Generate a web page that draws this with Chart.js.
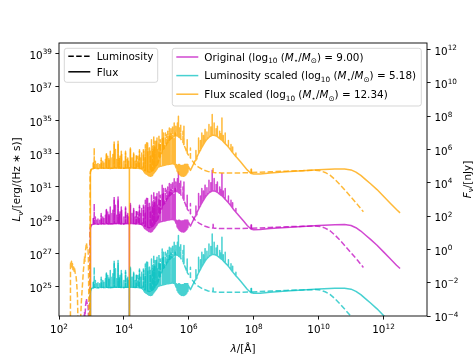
<!DOCTYPE html>
<html><head><meta charset="utf-8">
<script src="https://cdn.jsdelivr.net/npm/chart.js@4.4.1/dist/chart.umd.min.js"></script>
<style>html,body{margin:0;padding:0;background:#fff;}canvas{display:block;}</style>
</head><body>
<canvas id="c" width="474" height="355"></canvas>
<script>
// ---------------- data (log10 values) ----------------
const massLog = [9.00, 5.18, 12.34];
const seriesNames = ['Original', 'Luminosity scaled', 'Flux scaled'];
const massLabels = ['9.00', '5.18', '12.34'];

// Original model, luminosity: [log10 lambda/A, log10 L_nu erg/(Hz s)]
const lumOriginal = [
[2.00,15.0],[2.35,15.5],[2.354,23.16],[2.37,22.9],[2.385,23.2],[2.40,22.8],[2.415,23.05],[2.43,22.7],[2.45,22.95],[2.465,22.6],[2.477,22.8],[2.50,22.5],[2.523,22.35],[2.545,21.9],[2.569,21.1],[2.59,19.0],[2.61,17.7],[2.64,18.5],[2.66,19.5],[2.69,20.8],[2.72,21.7],[2.75,22.6],[2.77,23.0],[2.785,23.5],[2.80,23.2],[2.82,23.9],[2.846,24.3],[2.865,24.0],[2.89,24.05],[2.905,23.5],[2.92,20.7],[2.945,16.7],[2.955,17.0],
[2.958,28.3],[2.97,28.6],[2.99,28.72],[3.03,28.76],[3.058,28.77],[3.06,29.1],[3.062,28.77],[3.082,28.78],[3.085,30.0],[3.088,28.78],[3.15,28.8],[3.198,28.77],[3.20,29.15],[3.202,28.77],[3.27,28.8],[3.298,28.78],[3.30,29.4],[3.302,28.78],
[3.348,28.8],[3.35,29.2],[3.352,28.8],[3.42,28.78],[3.458,28.8],[3.46,29.6],[3.462,28.8],[3.52,28.78],[3.538,28.8],[3.54,29.3],[3.542,28.8],
[3.578,28.8],[3.58,29.8],[3.582,28.8],[3.64,28.78],[3.698,28.8],[3.70,30.4],[3.702,28.8],[3.76,28.8],[3.818,28.8],[3.82,30.4],[3.822,28.8],
[3.858,28.8],[3.86,29.4],[3.862,28.8],[3.918,28.78],[3.92,29.8],[3.922,28.78],[3.98,28.78],[4.048,28.8],[4.05,29.8],[4.052,28.8],
[4.118,28.8],[4.12,29.4],[4.122,28.8],[4.198,28.8],[4.20,30.0],[4.202,28.8],[4.26,28.78],[4.298,28.8],[4.30,29.7],[4.302,28.8],
[4.378,28.8],[4.38,29.6],[4.382,28.8],[4.428,28.78],[4.43,29.5],[4.432,28.78],[4.478,28.78],[4.48,29.9],[4.482,28.78],[4.518,28.78],[4.52,29.4],[4.522,28.78],[4.56,28.75],
[4.598,28.7],[4.60,29.9],[4.602,28.7],[4.64,28.66],[4.658,28.64],[4.66,30.2],[4.662,28.64],[4.70,28.6],[4.728,28.58],[4.73,30.3],[4.732,28.58],[4.78,28.55],
[4.808,28.56],[4.81,29.8],[4.812,28.56],[4.848,28.6],[4.85,30.5],[4.852,28.6],[4.888,28.65],[4.89,30.1],[4.892,28.65],[4.918,28.7],[4.92,30.7],[4.922,28.72],
[4.958,28.82],[4.96,30.4],[4.962,28.83],[4.98,28.9],
[5.018,28.98],[5.02,30.6],[5.022,28.99],[5.05,29.1],[5.078,29.3],[5.08,30.8],[5.082,29.35],[5.118,29.45],[5.12,30.5],[5.122,29.46],[5.15,29.55],
[5.178,29.8],[5.18,31.1],[5.182,29.82],[5.218,29.93],[5.22,30.9],[5.222,29.94],[5.25,30.0],[5.278,30.1],[5.28,30.9],[5.282,30.1],
[5.318,30.24],[5.32,30.8],[5.322,30.25],[5.348,30.33],[5.35,31.0],[5.352,30.33],[5.398,30.45],[5.40,31.2],[5.402,30.46],
[5.448,30.55],[5.45,31.2],[5.452,30.56],[5.498,30.63],[5.50,31.3],[5.502,30.64],[5.548,30.7],[5.55,31.5],[5.552,30.7],
[5.598,30.73],[5.60,31.3],[5.602,30.73],[5.62,30.74],[5.648,30.72],[5.65,31.5],[5.652,30.72],[5.678,30.68],[5.68,31.9],[5.682,30.67],
[5.718,30.62],[5.72,31.2],[5.722,30.62],[5.748,30.55],[5.75,31.4],[5.752,30.54],[5.80,30.4],[5.818,30.33],[5.82,31.0],[5.822,30.32],
[5.848,30.2],[5.85,31.3],[5.852,30.18],[5.90,29.95],[5.948,29.7],[5.95,30.5],[5.952,29.68],[6.0,29.55],[6.048,29.4],[6.05,30.0],[6.052,29.4],
[6.1,29.25],[6.2,29.0],[6.3,28.85],[6.45,28.68],[6.6,28.58],[6.748,28.53],[6.75,28.8],[6.752,28.53],
[6.8,28.52],[7.0,28.5],[7.5,28.5],[7.918,28.52],[7.92,28.72],[7.922,28.52],[8.5,28.57],[9.0,28.61],[9.5,28.64],[9.9,28.66],
[10.05,28.63],[10.2,28.53],[10.35,28.37],[10.5,28.12],[10.65,27.82],[10.82,27.45],[11.0,27.05],[11.2,26.6],[11.38,26.17]
];

// Original model, flux: [log10 lambda/A, log10 F_nu nJy]
const fluxOriginal = [
[2.95,-12.25],[2.958,-11.25],[2.963,0.95],[2.975,1.30],[2.99,1.43],[3.03,1.50],
[3.058,1.52],[3.06,1.85],[3.062,1.52],[3.08,1.55],[3.118,1.55],[3.12,1.95],[3.122,1.55],[3.158,1.52],[3.16,1.75],[3.162,1.52],[3.20,1.51],
[3.248,1.53],[3.25,1.75],[3.252,1.53],[3.298,1.54],[3.30,2.0],[3.302,1.54],[3.33,1.55],[3.378,1.53],[3.38,1.85],[3.382,1.53],
[3.428,1.53],[3.43,2.05],[3.432,1.53],[3.458,1.55],[3.46,2.4],[3.462,1.55],[3.498,1.55],[3.50,2.25],[3.502,1.55],[3.538,1.53],[3.54,2.1],[3.542,1.53],[3.58,1.52],
[3.628,1.55],[3.63,2.15],[3.632,1.55],[3.658,1.55],[3.66,2.35],[3.662,1.55],[3.698,1.56],[3.70,2.95],[3.702,1.56],[3.738,1.57],[3.74,2.65],[3.742,1.57],
[3.778,1.55],[3.78,2.05],[3.782,1.55],[3.818,1.56],[3.82,2.95],[3.822,1.56],[3.858,1.55],[3.86,2.0],[3.862,1.55],[3.878,1.55],[3.88,2.25],[3.882,1.55],
[3.918,1.54],[3.92,2.35],[3.922,1.54],[3.938,1.55],[3.94,2.25],[3.942,1.55],[3.998,1.53],[4.00,1.95],[4.002,1.53],[4.048,1.55],[4.05,2.45],[4.052,1.55],
[4.098,1.55],[4.10,2.05],[4.102,1.55],[4.138,1.54],[4.14,1.95],[4.142,1.54],[4.168,1.55],[4.17,-12.25],[4.172,1.55],[4.198,1.55],[4.20,2.65],[4.202,1.55],
[4.248,1.55],[4.25,2.15],[4.252,1.55],[4.298,1.55],[4.30,2.35],[4.302,1.55],[4.348,1.53],[4.35,1.95],[4.352,1.53],[4.378,1.54],[4.38,2.2],[4.382,1.54],
[4.398,1.55],[4.40,2.25],[4.402,1.55],[4.448,1.53],[4.45,2.05],[4.452,1.53],[4.478,1.52],[4.48,2.55],[4.482,1.52],[4.548,1.50],[4.55,2.45],[4.552,1.50],
[4.575,1.43],[4.59,1.60],[4.605,1.35],[4.618,2.55],[4.622,1.33],[4.635,1.60],[4.65,1.25],[4.665,2.2],[4.68,1.19],[4.698,3.05],[4.702,1.17],
[4.715,1.65],[4.73,1.13],[4.745,2.5],[4.76,1.08],[4.778,2.75],[4.782,1.07],[4.795,1.65],[4.81,1.05],[4.825,2.3],[4.84,1.06],[4.855,1.65],
[4.87,1.10],[4.878,2.65],[4.886,1.13],[4.90,1.65],[4.915,1.20],[4.93,2.8],[4.945,1.27],[4.96,2.4],[4.975,1.35],[4.998,3.15],[5.002,1.43],
[5.048,1.60],[5.05,2.65],[5.052,1.60],[5.078,1.62],[5.08,3.1],[5.082,1.62],[5.118,1.65],[5.12,2.95],[5.122,1.65],[5.17,1.67],[5.178,1.68],[5.18,3.3],[5.182,1.68],
[5.218,1.70],[5.22,3.35],[5.222,1.70],[5.248,1.71],[5.25,2.9],[5.252,1.71],[5.278,1.72],[5.28,2.75],[5.282,1.72],[5.318,1.75],[5.32,3.05],[5.322,1.75],
[5.358,1.76],[5.36,3.2],[5.362,1.76],[5.398,1.77],[5.40,3.45],[5.402,1.77],[5.448,1.79],[5.45,3.6],[5.452,1.79],[5.46,1.80],
[5.498,1.80],[5.50,3.35],[5.502,1.80],[5.538,1.78],[5.54,3.3],[5.542,1.78],[5.578,1.75],[5.58,3.65],[5.582,1.70],
[5.61,1.55],[5.625,1.75],[5.64,1.35],[5.655,1.70],[5.67,1.25],[5.685,1.75],[5.70,1.17],[5.715,1.75],[5.73,1.12],[5.745,1.70],[5.76,1.08],
[5.775,1.70],[5.79,1.06],[5.805,1.70],[5.82,1.05],[5.835,1.70],[5.85,1.05],[5.865,1.75],[5.88,1.08],[5.895,1.75],[5.91,1.13],[5.925,1.75],
[5.94,1.20],[5.955,1.75],[5.97,1.30],[5.985,1.65],
[6.05,1.40],[6.10,1.60],[6.15,1.80],[6.20,2.00],[6.218,2.07],[6.22,2.6],[6.222,2.08],[6.25,2.20],[6.298,2.40],[6.30,3.35],[6.302,2.41],
[6.35,2.60],[6.358,2.63],[6.36,3.2],[6.362,2.64],[6.398,2.77],[6.40,3.65],[6.402,2.78],[6.448,2.94],[6.45,3.5],[6.452,2.95],
[6.498,3.10],[6.50,3.85],[6.502,3.11],[6.55,3.25],[6.558,3.27],[6.56,3.7],[6.562,3.27],[6.618,3.38],[6.62,4.15],[6.622,3.39],[6.66,3.45],
[6.678,3.47],[6.68,4.0],[6.682,3.47],[6.718,3.51],[6.72,4.75],[6.722,3.51],[6.778,3.51],[6.78,4.25],[6.782,3.51],[6.83,3.48],
[6.838,3.47],[6.84,3.9],[6.842,3.47],[6.878,3.43],[6.88,4.05],[6.882,3.43],[6.948,3.32],[6.95,3.75],[6.952,3.32],[6.978,3.27],[6.98,3.6],[6.982,3.27],
[7.018,3.22],[7.02,4.55],[7.022,3.22],[7.058,3.14],[7.06,3.5],[7.062,3.14],[7.10,3.05],[7.118,3.01],[7.12,3.65],[7.122,3.01],[7.20,2.85],
[7.218,2.81],[7.22,3.2],[7.222,2.80],[7.298,2.61],[7.30,2.95],[7.302,2.60],[7.348,2.48],[7.35,2.8],[7.352,2.47],
[7.40,2.35],[7.448,2.24],[7.45,2.45],[7.452,2.23],[7.50,2.13],[7.60,1.90],[7.70,1.67],[7.80,1.43],[7.90,1.25],[7.928,1.21],[7.93,1.47],[7.932,1.21],
[8.00,1.18],[8.20,1.19],[8.50,1.25],[9.00,1.32],[9.50,1.38],[10.00,1.44],[10.50,1.48],[10.80,1.49],[11.00,1.43],[11.15,1.30],[11.30,1.10],
[11.45,0.85],[11.60,0.60],[11.80,0.25],[12.00,-0.15],[12.20,-0.55],[12.40,-0.95],[12.51,-1.15]
];

// axis ranges and ticks (log10)
const xRange = [2, 13.34];
const yRange = [23.255, 39.64];
const y2Range = [-4, 12.39];
const xTickExp = [2, 4, 6, 8, 10, 12];
const yTickExp = [25, 27, 29, 31, 33, 35, 37, 39];
const y2TickExp = [-4, -2, 0, 2, 4, 6, 8, 10, 12];

// ---------------- styling ----------------
const modelColors = ['rgba(191,0,191,0.72)', 'rgba(0,191,191,0.72)', 'rgba(255,165,0,0.78)'];
const FONT = '"DejaVu Sans", sans-serif';
const FS = 10.4, SS = 7.3;

const datasets = [];
massLog.forEach((m, i) => {
  const shift = m - massLog[0];
  datasets.push({
    label: seriesNames[i] + ' luminosity',
    data: lumOriginal.map(([l, v]) => ({x: Math.pow(10, l), y: Math.pow(10, v + shift)})),
    yAxisID: 'y', borderColor: modelColors[i], borderWidth: 1.5, borderDash: [5.5, 2.4],
    pointRadius: 0, borderJoinStyle: 'round', tension: 0, order: 2 - i, fill: false
  });
  datasets.push({
    label: seriesNames[i] + ' flux',
    data: fluxOriginal.map(([l, v]) => ({x: Math.pow(10, l), y: Math.pow(10, v + shift)})),
    yAxisID: 'y2', borderColor: modelColors[i], borderWidth: 1.5,
    pointRadius: 0, borderJoinStyle: 'round', tension: 0, order: 2 - i, fill: false
  });
});

function fontOf(s) {
  if (s === 'i') return `italic ${FS}px ${FONT}`;
  if (s === 'sub' || s === 'sup') return `${SS}px ${FONT}`;
  return `${FS}px ${FONT}`;
}
function drawRich(ctx, parts, x, y, align) {
  let w = 0;
  const items = parts.map(([t, s]) => {
    ctx.font = fontOf(s);
    const mw = ctx.measureText(t).width;
    const it = {t, s, x: w, w: mw};
    w += mw;
    return it;
  });
  const x0 = align === 'center' ? x - w / 2 : (align === 'right' ? x - w : x);
  for (const it of items) {
    ctx.font = fontOf(it.s);
    const dy = it.s === 'sub' ? 2.6 : (it.s === 'sup' ? -4.6 : 0);
    ctx.fillText(it.t, x0 + it.x, y + dy);
  }
  return w;
}
function expText(e) { return e < 0 ? '\u2212' + Math.abs(e) : String(e); }
function roundRect(ctx, x, y, w, h, r) {
  ctx.beginPath();
  ctx.moveTo(x + r, y); ctx.lineTo(x + w - r, y); ctx.quadraticCurveTo(x + w, y, x + w, y + r);
  ctx.lineTo(x + w, y + h - r); ctx.quadraticCurveTo(x + w, y + h, x + w - r, y + h);
  ctx.lineTo(x + r, y + h); ctx.quadraticCurveTo(x, y + h, x, y + h - r);
  ctx.lineTo(x, y + r); ctx.quadraticCurveTo(x, y, x + r, y); ctx.closePath();
}

const decor = {
  id: 'decor',
  afterDraw(chart) {
    const ctx = chart.ctx, a = chart.chartArea;
    const sx = chart.scales.x, sy = chart.scales.y, sy2 = chart.scales.y2;
    ctx.save();
    ctx.strokeStyle = '#000'; ctx.lineWidth = 0.9;
    ctx.strokeRect(a.left, a.top, a.right - a.left, a.bottom - a.top);
    ctx.fillStyle = '#000'; ctx.textBaseline = 'alphabetic';
    xTickExp.forEach(e => drawRich(ctx, [['10', 'n'], [expText(e), 'sup']], sx.getPixelForValue(Math.pow(10, e)), 333.3, 'center'));
    yTickExp.forEach(e => drawRich(ctx, [['10', 'n'], [expText(e), 'sup']], 52, sy.getPixelForValue(Math.pow(10, e)) + 5.3, 'right'));
    y2TickExp.forEach(e => drawRich(ctx, [['10', 'n'], [expText(e), 'sup']], 434.5, sy2.getPixelForValue(Math.pow(10, e)) + 5.3, 'left'));
    const cx = (a.left + a.right) / 2, cy = (a.top + a.bottom) / 2;
    drawRich(ctx, [['\u03bb', 'i'], ['/[\u00c5]', 'n']], cx, 351.5, 'center');
    ctx.save(); ctx.translate(20, cy); ctx.rotate(-Math.PI / 2);
    drawRich(ctx, [['L', 'i'], ['\u03bd', 'sub'], ['/[erg/(Hz \u2217 s)]', 'n']], 0, 0, 'center');
    ctx.restore();
    ctx.save(); ctx.translate(470.5, cy); ctx.rotate(-Math.PI / 2);
    drawRich(ctx, [['F', 'i'], ['\u03bd', 'sub'], ['/[nJy]', 'n']], 0, 0, 'center');
    ctx.restore();
    // legend 1 (line styles)
    roundRect(ctx, 64.3, 48.3, 93.4, 34, 2.5);
    ctx.fillStyle = 'rgba(255,255,255,0.8)'; ctx.fill();
    ctx.strokeStyle = 'rgba(204,204,204,0.9)'; ctx.lineWidth = 0.9; ctx.stroke();
    ctx.strokeStyle = '#000'; ctx.lineWidth = 1.5;
    ctx.setLineDash([5.5, 2.4]);
    ctx.beginPath(); ctx.moveTo(68.3, 56.2); ctx.lineTo(90.3, 56.2); ctx.stroke();
    ctx.setLineDash([]);
    ctx.beginPath(); ctx.moveTo(68.3, 71.8); ctx.lineTo(90.3, 71.8); ctx.stroke();
    ctx.fillStyle = '#000';
    drawRich(ctx, [['Luminosity', 'n']], 96.7, 56.2 + 3.8, 'left');
    drawRich(ctx, [['Flux', 'n']], 96.7, 71.8 + 3.8, 'left');
    // legend 2 (models)
    roundRect(ctx, 172.3, 48.3, 249, 57.7, 2.5);
    ctx.fillStyle = 'rgba(255,255,255,0.8)'; ctx.fill();
    ctx.strokeStyle = 'rgba(204,204,204,0.9)'; ctx.lineWidth = 0.9; ctx.stroke();
    const rows = [57.0, 75.6, 94.2];
    seriesNames.forEach((n, i) => {
      ctx.strokeStyle = modelColors[i]; ctx.lineWidth = 1.5;
      ctx.beginPath(); ctx.moveTo(176.3, rows[i]); ctx.lineTo(198.3, rows[i]); ctx.stroke();
      ctx.fillStyle = '#000';
      drawRich(ctx, [[n + ' (log', 'n'], ['10', 'sub'], [' (', 'n'], ['M', 'i'], ['\u22c6', 'sub'], ['/', 'n'], ['M', 'i'], ['\u2299', 'sub'], [') = ' + massLabels[i] + ')', 'n']], 204.3, rows[i] + 3.8, 'left');
    });
    ctx.restore();
  }
};

function logAxis(pos, range, exps, w) {
  return {
    type: 'logarithmic', position: pos,
    min: Math.pow(10, range[0]), max: Math.pow(10, range[1]),
    afterBuildTicks: s => { s.ticks = exps.map(e => ({value: Math.pow(10, e)})); },
    afterFit: s => { if (pos === 'bottom') s.height = w; else s.width = w; },
    ticks: {display: false},
    grid: {display: true, drawOnChartArea: false, drawTicks: true, tickLength: 3.6, tickWidth: 0.9, tickColor: '#000', color: '#000'},
    border: {display: false}
  };
}

new Chart(document.getElementById('c'), {
  type: 'line',
  data: {datasets},
  options: {
    responsive: false, animation: false, devicePixelRatio: 1,
    layout: {padding: {top: 43, left: 0, right: 0, bottom: 0}},
    plugins: {legend: {display: false}, tooltip: {enabled: false}},
    elements: {line: {tension: 0}},
    scales: {
      x: logAxis('bottom', xRange, xTickExp, 39),
      y: logAxis('left', yRange, yTickExp, 59),
      y2: logAxis('right', y2Range, y2TickExp, 47)
    }
  },
  plugins: [decor]
});
</script>
</body></html>
